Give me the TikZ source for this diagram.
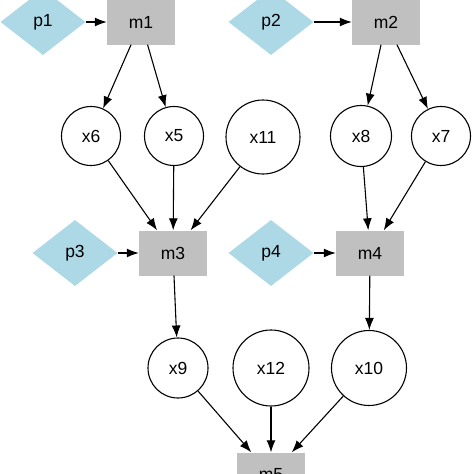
\documentclass[tikz,border=0pt]{standalone}
\usepackage{fontspec}
\setmainfont{Liberation Sans}
\usetikzlibrary{shapes.geometric,arrows.meta}
\definecolor{gvgray}{HTML}{C0C0C0}
\definecolor{gvblue}{HTML}{ADD8E6}
\begin{document}
\begin{tikzpicture}[x=1pt,y=-1pt,
  every node/.style={font=\fontsize{17.5}{20}\selectfont, text=black},
  mbox/.style={rectangle, fill=gvgray, minimum width=68pt, minimum height=45pt, inner sep=0pt},
  pdia/.style={diamond, fill=gvblue, minimum width=85pt, minimum height=66pt, aspect=1.3, inner sep=0pt},
  var/.style={circle, draw=black, line width=1.1pt, minimum size=#1, inner sep=0pt},
  var/.default=59pt,
  edge/.style={draw=black, line width=1.1pt, -{Latex[length=12pt,width=9pt]}}
]
\clip (0,0) rectangle (474,474);
\fill[white] (0,0) rectangle (474,474);
% row 1
\node[pdia] (p1) at (43,22) {p1};
\node[mbox] (m1) at (141,22) {m1};
\node[pdia] (p2) at (271,22) {p2};
\node[mbox] (m2) at (386,22) {m2};
% row 2
\node[var] (x6) at (91,136) {x6};
\node[var] (x5) at (174,136) {x5};
\node[var=74pt] (x11) at (263,137) {x11};
\node[var=61pt] (x8) at (361,136) {x8};
\node[var] (x7) at (441,136) {x7};
% row 3
\node[pdia] (p3) at (75,253) {p3};
\node[mbox] (m3) at (173,253) {m3};
\node[pdia] (p4) at (271,253) {p4};
\node[mbox] (m4) at (370,253) {m4};
% row 4
\node[var=60pt] (x9) at (178,368) {x9};
\node[var=76pt] (x12) at (271,368) {x12};
\node[var=75pt] (x10) at (369,368) {x10};
% row 5
\node[mbox] (m5) at (271,475) {m5};
% edges
\draw[edge] (p1) -- (m1);
\draw[edge] (p2) -- (m2);
\draw[edge] (m1) -- (x6);
\draw[edge] (m1) -- (x5);
\draw[edge] (m2) -- (x8);
\draw[edge] (m2) -- (x7);
\draw[edge] (x6) -- (m3);
\draw[edge] (x5) -- (m3);
\draw[edge] (x11) -- (m3);
\draw[edge] (x8) -- (m4);
\draw[edge] (x7) -- (m4);
\draw[edge] (p3) -- (m3);
\draw[edge] (p4) -- (m4);
\draw[edge] (m3) -- (x9);
\draw[edge] (m4) -- (x10);
\draw[edge] (x9) -- (m5);
\draw[edge] (x12) -- (m5);
\draw[edge] (x10) -- (m5);
\end{tikzpicture}
\end{document}
